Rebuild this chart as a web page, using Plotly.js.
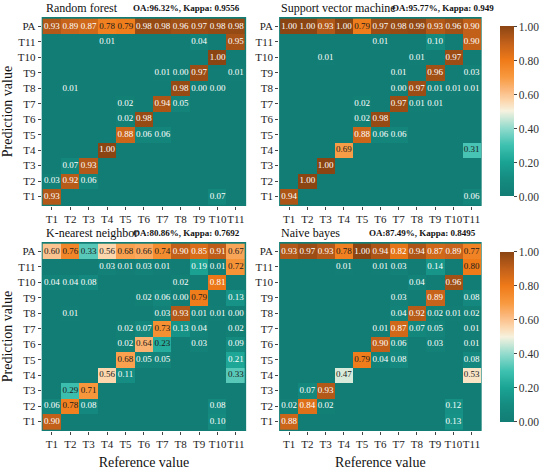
<!DOCTYPE html>
<html>
<head>
<meta charset="utf-8">
<script src="https://cdn.plot.ly/plotly-3.0.1.min.js"></script>
<style>html,body{margin:0;padding:0;background:#fff}#chart{width:550px;height:475px}</style>
</head>
<body>
<div id="chart"></div>
<script>
// Category labels
const refLabels = ['T1','T2','T3','T4','T5','T6','T7','T8','T9','T10','T11'];
const predLabels = ['T1','T2','T3','T4','T5','T6','T7','T8','T9','T10','T11','PA'];
const n = null;

// Rows: T1 ... T11, PA ; columns: reference T1 ... T11 (null = blank cell)
const randomForest = [
  [0.93,n,n,n,n,n,n,n,n,0.07,n],
  [0.03,0.92,0.06,n,n,n,n,n,n,n,n],
  [n,0.07,0.93,n,n,n,n,n,n,n,n],
  [n,n,n,1.00,n,n,n,n,n,n,n],
  [n,n,n,n,0.88,0.06,0.06,n,n,n,n],
  [n,n,n,n,0.02,0.98,n,n,n,n,n],
  [n,n,n,n,0.02,n,0.94,0.05,n,n,n],
  [n,0.01,n,n,n,n,n,0.98,0.00,0.00,n],
  [n,n,n,n,n,n,0.01,0.00,0.97,n,0.01],
  [n,n,n,n,n,n,n,n,n,1.00,n],
  [n,n,n,0.01,n,n,n,n,0.04,n,0.95],
  [0.93,0.89,0.87,0.78,0.79,0.98,0.98,0.96,0.97,0.98,0.98]
];
const supportVector = [
  [0.94,n,n,n,n,n,n,n,n,n,0.06],
  [n,1.00,n,n,n,n,n,n,n,n,n],
  [n,n,1.00,n,n,n,n,n,n,n,n],
  [n,n,n,0.69,n,n,n,n,n,n,0.31],
  [n,n,n,n,0.88,0.06,0.06,n,n,n,n],
  [n,n,n,n,0.02,0.98,n,n,n,n,n],
  [n,n,n,n,0.02,n,0.97,0.01,0.01,n,n],
  [n,n,n,n,n,n,0.00,0.97,0.01,0.01,0.01],
  [n,n,n,n,n,n,0.01,n,0.96,n,0.03],
  [n,n,0.01,n,n,n,n,0.01,n,0.97,n],
  [n,n,n,n,n,0.01,n,n,0.10,n,0.90],
  [1.00,1.00,0.93,1.00,0.79,0.97,0.98,0.99,0.93,0.96,0.90]
];
const kNearest = [
  [0.90,n,n,n,n,n,n,n,n,0.10,n],
  [0.06,0.78,0.08,n,n,n,n,n,n,0.08,n],
  [n,0.29,0.71,n,n,n,n,n,n,n,n],
  [n,n,n,0.56,0.11,n,n,n,n,n,0.33],
  [n,n,n,n,0.68,0.05,0.05,n,n,n,0.21],
  [n,n,n,n,0.02,0.64,0.23,n,0.03,n,0.09],
  [n,n,n,n,0.02,0.07,0.73,0.13,0.04,n,0.02],
  [n,0.01,n,n,n,n,0.03,0.93,0.01,0.01,0.00],
  [n,n,n,n,n,0.02,0.06,0.00,0.79,n,0.13],
  [0.04,0.04,0.08,n,n,n,n,0.02,n,0.81,n],
  [n,n,n,0.03,0.01,0.03,0.01,n,0.19,0.01,0.72],
  [0.60,0.76,0.33,0.56,0.68,0.66,0.74,0.90,0.85,0.91,0.67]
];
const naiveBayes = [
  [0.88,n,n,n,n,n,n,n,n,0.13,n],
  [0.02,0.84,0.02,n,n,n,n,n,n,0.12,n],
  [n,0.07,0.93,n,n,n,n,n,n,n,n],
  [n,n,n,0.47,n,n,n,n,n,n,0.53],
  [n,n,n,n,0.79,0.04,0.08,n,n,n,0.08],
  [n,n,n,n,n,0.90,0.06,n,0.03,n,0.01],
  [n,n,n,n,n,0.01,0.87,0.07,0.05,n,0.01],
  [n,n,n,n,n,n,0.04,0.92,0.02,0.01,0.02],
  [n,n,n,n,n,n,0.03,n,0.89,n,0.08],
  [n,n,n,n,n,n,n,0.04,n,0.96,n],
  [n,n,n,0.01,n,0.01,0.03,n,0.14,n,0.80],
  [0.93,0.97,0.93,0.78,1.00,0.94,0.82,0.94,0.87,0.89,0.77]
];

const panelNames = ['Random forest','Support vector machine','K-nearest neighbor','Naive bayes'];
const panelScores = ['OA:96.32%, Kappa: 0.9556','OA:95.77%, Kappa: 0.949','OA:80.86%, Kappa: 0.7692','OA:87.49%, Kappa: 0.8495'];
const colorTicks = [0,0.2,0.4,0.6,0.8,1.0];

const matrices = [randomForest, supportVector, kNearest, naiveBayes];
const W = 550, H = 475;
const FONT = 'Liberation Serif';
const colorscale = [
  [0,'#127d74'],[0.1,'#158b80'],[0.2,'#1aa393'],[0.3,'#3fc1b0'],[0.4,'#92dbcd'],
  [0.5,'#f6f2df'],[0.56,'#fcd6ad'],[0.62,'#fbba80'],[0.7,'#f8993f'],[0.8,'#ef7a18'],
  [0.9,'#c2601a'],[1,'#8b4513']
];

const xDom = [[43/W,254/W],[288/W,497/W],[43/W,254/W],[288/W,497/W]];
const yDom = [[1-206/H,1-17/H],[1-206/H,1-17/H],[1-431/H,1-242/H],[1-431/H,1-242/H]];

function cbar(yc){
  return {x:506/W,xanchor:'left',thickness:14,len:190/H,lenmode:'fraction',y:yc,yanchor:'middle',
    tickvals:colorTicks,ticktext:colorTicks.map(v=>v.toFixed(2)),ticks:'outside',ticklen:3,tickcolor:'#444',
    tickfont:{family:FONT,size:11.5,color:'#333'},outlinewidth:0};
}

const traces = [];
const layout = {
  width: W, height: H,
  margin: {l:0,r:0,t:0,b:0},
  paper_bgcolor: '#fff', plot_bgcolor: '#127d74',
  font: {family: FONT, color: '#222'},
  showlegend: false,
  annotations: [],
  coloraxis: {cmin:0,cmax:1,colorscale:colorscale,colorbar:cbar((yDom[0][0]+yDom[0][1])/2)},
  coloraxis2: {cmin:0,cmax:1,colorscale:colorscale,colorbar:cbar((yDom[2][0]+yDom[2][1])/2)}
};

matrices.forEach((m, k) => {
  const sx = k===0 ? '' : String(k+1);
  const z = m.map(row => row.map(v => v===null ? 0 : v));
  traces.push({
    type:'heatmap', x: refLabels, y: predLabels, z: z,
    coloraxis: k<2 ? 'coloraxis' : 'coloraxis2',
    xaxis:'x'+sx, yaxis:'y'+sx, hoverinfo:'skip'
  });
  const tx=[], ty=[], tt=[], tc=[];
  m.forEach((row,i) => row.forEach((v,j) => {
    if (v===null) return;
    tx.push(refLabels[j]); ty.push(predLabels[i]); tt.push(v.toFixed(2));
    tc.push((v>=0.22 && v<=0.805) ? '#1a1a1a' : '#ffffff');
  }));
  traces.push({
    type:'scatter', mode:'text', x:tx, y:ty, text:tt,
    textfont:{family:FONT,size:9,color:tc}, textposition:'middle center',
    xaxis:'x'+sx, yaxis:'y'+sx, hoverinfo:'skip', cliponaxis:false
  });
  layout['xaxis'+sx] = {
    domain: xDom[k], anchor:'y'+sx, type:'category',
    categoryorder:'array', categoryarray: refLabels, tickangle:0,
    ticks:'outside', ticklen:3, tickcolor:'#444', showgrid:false, zeroline:false,
    tickfont:{family:FONT,size:11,color:'#222'}, fixedrange:true,
    title: k>=2 ? {text:'Reference value', font:{family:FONT,size:14,color:'#111'}, standoff:7} : {text:''}
  };
  layout['yaxis'+sx] = {
    domain: yDom[k], anchor:'x'+sx, type:'category',
    categoryorder:'array', categoryarray: predLabels,
    ticks:'outside', ticklen:3, tickcolor:'#444', showgrid:false, zeroline:false,
    tickfont:{family:FONT,size:11,color:'#222'}, fixedrange:true,
    title: (k%2===0) ? {text:'Prediction value', font:{family:FONT,size:14,color:'#111'}, standoff:3} : {text:''}
  };
  const titleY = k<2 ? 1-8/H : 1-233/H;
  const titleX = k%2===0 ? 45/W : 288/W;
  const scoreX = [250,512,250,493][k]/W;
  layout.annotations.push({xref:'paper',yref:'paper',x:titleX,y:titleY,xanchor:'left',yanchor:'middle',
    text:panelNames[k],showarrow:false,font:{family:FONT,size:12,color:'#111'}});
  layout.annotations.push({xref:'paper',yref:'paper',x:scoreX,y:titleY,xanchor:'right',yanchor:'middle',
    text:'<b>'+panelScores[k]+'</b>',showarrow:false,font:{family:FONT,size:9,color:'#111'}});
});

Plotly.newPlot('chart', traces, layout, {displayModeBar:false, staticPlot:true});
</script>
</body>
</html>
